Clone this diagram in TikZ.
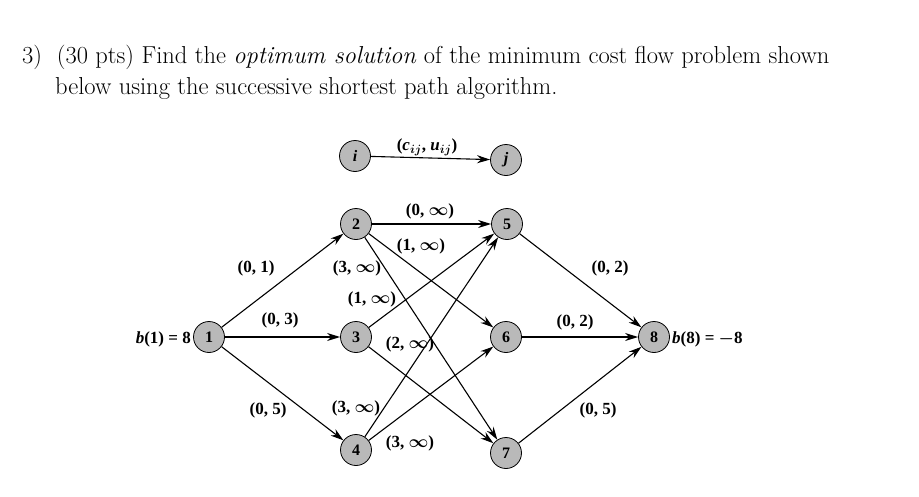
\documentclass[tikz,border=0pt]{standalone}
\usepackage{fontspec}
\newfontfamily\lbl{Liberation Serif}
\usetikzlibrary{arrows.meta}
\begin{document}
\begin{tikzpicture}[x=1pt,y=-1pt,
  nd/.style={circle,draw,fill=gray!55,minimum size=31pt,inner sep=0pt,line width=0.8pt,font=\lbl\bfseries\fontsize{16}{16}\selectfont},
  ar/.style={draw,-{Stealth[length=13pt,width=8pt]},line width=1.1pt},
  lb/.style={font=\lbl\bfseries\boldmath\fontsize{17}{17}\selectfont,inner sep=1pt}]
\useasboundingbox (0,0) rectangle (919,496);
\node[anchor=west,font=\fontsize{24.5}{24.5}\selectfont,inner sep=0pt] (t1) at (22,57) {3)\ \ (30 pts) Find the \emph{optimum solution} of the minimum cost flow problem shown};
\node[anchor=west,font=\fontsize{24.5}{24.5}\selectfont,inner sep=0pt] (t2) at (55,88) {below using the successive shortest path algorithm.};
\node[nd] (i) at (355,156) {\itshape i};
\node[nd] (j) at (506,160) {\itshape j};
\node[nd] (n1) at (209,337) {1};
\node[nd] (n2) at (356,224) {2};
\node[nd] (n3) at (356,337) {3};
\node[nd] (n4) at (356,450) {4};
\node[nd] (n5) at (507,224) {5};
\node[nd] (n6) at (506,337) {6};
\node[nd] (n7) at (506,453) {7};
\node[nd] (n8) at (654,337) {8};
\draw[ar] (i) -- (j);
\foreach \a/\b in {n1/n2,n1/n3,n1/n4,n2/n5,n2/n6,n2/n7,n3/n5,n3/n7,n4/n5,n4/n6,n5/n8,n6/n8,n7/n8}
  \draw[ar] (\a) -- (\b);
\node[lb] (lc) at (427,147) {(\textit{c}$_{ij}$, \textit{u}$_{ij}$)};
\node[lb] (l12) at (256,268) {(0, 1)};
\node[lb] (l13) at (280,320) {(0, 3)};
\node[lb] (l14) at (268,410) {(0, 5)};
\node[lb] (l27) at (357,268) {(3, $\infty$)};
\node[lb] (l35) at (372,299) {(1, $\infty$)};
\node[lb] (l25) at (430,211) {(0, $\infty$)};
\node[lb] (l26) at (421,246) {(1, $\infty$)};
\node[lb] (l37) at (410,344) {(2, $\infty$)};
\node[lb] (l45) at (356,408) {(3, $\infty$)};
\node[lb] (l46) at (410,443) {(3, $\infty$)};
\node[lb] (l58) at (610,268) {(0, 2)};
\node[lb] (l68) at (575,322) {(0, 2)};
\node[lb] (l78) at (598,410) {(0, 5)};
\node[lb,anchor=east] (b1) at (192,339) {\textit{b}(1) = 8};
\node[lb,anchor=west] (b8) at (671,339) {\textit{b}(8) = $-$8};
\end{tikzpicture}
\end{document}
